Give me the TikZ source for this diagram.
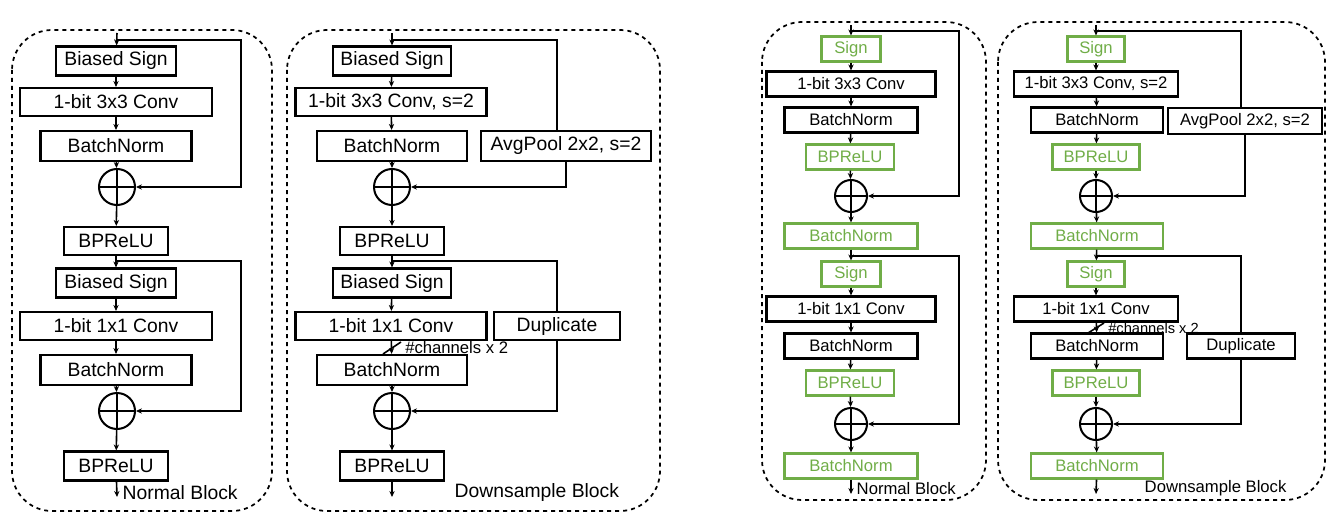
\documentclass[tikz,border=0pt]{standalone}
\usepackage{fontspec}
\setmainfont{Liberation Sans}
\usetikzlibrary{arrows.meta}
\definecolor{gr}{RGB}{112,173,71}
\newcommand{\bx}[7]{\node[box,#6,minimum width=#4*0.75pt,minimum height=#5*0.75pt] (#1) at (#2,#3) {#7};}
\newcommand{\plus}[3]{\node[sum,minimum size=#3*1.5pt] (#1) at (#2) {}; \draw[line width=1.4pt] (#1.north)--(#1.south) (#1.west)--(#1.east);}
\begin{document}
\begin{tikzpicture}[x=0.75pt,y=-0.75pt,
  box/.style={draw,line width=1.6pt,inner sep=0pt},
  big/.style={font=\fontsize{14.5}{17}\selectfont},
  sml/.style={font=\fontsize{12.5}{15}\selectfont},
  grn/.style={draw=gr,text=gr,sml},
  blk/.style={sml},
  sum/.style={circle,draw,line width=1.5pt,inner sep=0pt},
  ar/.style={-{Stealth[length=4.5pt,width=4pt]},line width=1.2pt},
  ln/.style={line width=1.2pt},
  panel/.style={draw,dashed,line width=1.3pt,rounded corners=30pt}]
\useasboundingbox (0,0) rectangle (1327,517);
% panels
\draw[panel] (12,30) rectangle (272,511);
\draw[panel] (287,30) rectangle (660,511);
\draw[panel] (762,22) rectangle (986,500);
\draw[panel] (998,22) rectangle (1325,500);
% ===== Panel 1
\bx{a1}{116}{61}{120}{29}{big}{Biased Sign}
\bx{a2}{116}{102}{192}{28}{big}{1-bit 3x3 Conv}
\bx{a3}{116}{146}{151}{30}{big}{BatchNorm}
\plus{ac1}{117,187}{18}
\bx{a4}{116}{241}{104}{28}{big}{BPReLU}
\bx{a5}{116}{283}{120}{29}{big}{Biased Sign}
\bx{a6}{116}{326}{192}{28}{big}{1-bit 1x1 Conv}
\bx{a7}{116}{370}{151}{30}{big}{BatchNorm}
\plus{ac2}{117,411}{18}
\bx{a8}{116}{466}{104}{29}{big}{BPReLU}
\coordinate (at) at (117,33); \coordinate (ae) at (117,497);
\coordinate (aj1) at (117,40); \coordinate (ak1) at (241,40);
\coordinate (aj2) at (117,261); \coordinate (ak2) at (241,261);
\draw[ar] (at)--(a1); \draw[ar] (a1)--(a2); \draw[ar] (a2)--(a3); \draw[ar] (a3)--(ac1);
\draw[ar] (ac1)--(a4); \draw[ar] (a4)--(a5); \draw[ar] (a5)--(a6); \draw[ar] (a6)--(a7);
\draw[ar] (a7)--(ac2); \draw[ar] (ac2)--(a8); \draw[ar] (a8)--(ae);
\draw[ar] (aj1)--(ak1)|-(ac1.east);
\draw[ar] (aj2)--(ak2)|-(ac2.east);
\node[anchor=west,big] (an) at (118,493) {Normal Block};
% ===== Panel 2
\bx{b1}{392}{61}{118}{29}{big}{Biased Sign}
\bx{b2}{391}{102}{191}{28}{big}{1-bit 3x3 Conv, s=2}
\bx{b3}{392}{146}{150}{30}{big}{BatchNorm}
\bx{bp}{566}{146}{170}{30}{big}{AvgPool 2x2, s=2}
\plus{bc1}{392,187}{18}
\bx{b4}{392}{241}{104}{28}{big}{BPReLU}
\bx{b5}{392}{283}{118}{29}{big}{Biased Sign}
\bx{b6}{391}{326}{191}{28}{big}{1-bit 1x1 Conv}
\bx{bd}{557}{326}{126}{28}{big}{Duplicate}
\bx{b7}{392}{370}{150}{30}{big}{BatchNorm}
\plus{bc2}{392,411}{18}
\bx{b8}{392}{466}{104}{29}{big}{BPReLU}
\coordinate (bt) at (392,33); \coordinate (be) at (392,497);
\coordinate (bj1) at (392,40); \coordinate (bk1) at (557,40);
\coordinate (bj2) at (392,261); \coordinate (bk2) at (557,261);
\draw[ar] (bt)--(b1); \draw[ar] (b1)--(b2); \draw[ar] (b2)--(b3); \draw[ar] (b3)--(bc1);
\draw[ar] (bc1)--(b4); \draw[ar] (b4)--(b5); \draw[ar] (b5)--(b6); \draw[ar] (b6)--(b7);
\draw[ar] (b7)--(bc2); \draw[ar] (bc2)--(b8); \draw[ar] (b8)--(be);
\draw[ln] (bj1)--(bk1)--(bk1|-bp.north); \draw[ar] (bp.south)|-(bc1.east);
\draw[ln] (bj2)--(bk2)--(bk2|-bd.north); \draw[ar] (bd.south)|-(bc2.east);
\coordinate (bs1) at (383,354); \coordinate (bs2) at (401,342);
\draw[ln] (bs1)--(bs2);
\node[anchor=west,font=\fontsize{12.5}{15}\selectfont,inner sep=0pt] (bch) at (405,348) {\#channels x 2};
\node[anchor=west,big] (bn) at (450,492) {Downsample Block};
% ===== Panel 3
\bx{c1}{851}{49}{59}{25}{grn}{Sign}
\bx{c2}{851}{84}{169}{25}{blk}{1-bit 3x3 Conv}
\bx{c3}{851}{120}{133}{25}{blk}{BatchNorm}
\bx{c4}{850}{157}{88}{25}{grn}{BPReLU}
\plus{cc1}{851,196}{16}
\bx{c5}{851}{236}{133}{25}{grn}{BatchNorm}
\bx{c6}{851}{274}{59}{25}{grn}{Sign}
\bx{c7}{851}{309}{169}{25}{blk}{1-bit 1x1 Conv}
\bx{c8}{851}{346}{133}{25}{blk}{BatchNorm}
\bx{c9}{850}{383}{88}{25}{grn}{BPReLU}
\plus{cc2}{851,424}{16}
\bx{c10}{851}{466}{133}{25}{grn}{BatchNorm}
\coordinate (ct) at (851,25); \coordinate (ce) at (851,494);
\coordinate (cj1) at (851,31); \coordinate (ck1) at (959,31);
\coordinate (cj2) at (851,256); \coordinate (ck2) at (959,256);
\draw[ar] (ct)--(c1); \draw[ar] (c1)--(c2); \draw[ar] (c2)--(c3); \draw[ar] (c3)--(c4);
\draw[ar] (c4)--(cc1); \draw[ar] (cc1)--(c5); \draw[ar] (c5)--(c6); \draw[ar] (c6)--(c7);
\draw[ar] (c7)--(c8); \draw[ar] (c8)--(c9); \draw[ar] (c9)--(cc2); \draw[ar] (cc2)--(c10);
\draw[ar] (c10)--(ce);
\draw[ar] (cj1)--(ck1)|-(cc1.east);
\draw[ar] (cj2)--(ck2)|-(cc2.east);
\node[anchor=west,sml] (cn) at (852,489) {Normal Block};
% ===== Panel 4
\bx{d1}{1096}{49}{57}{25}{grn}{Sign}
\bx{d2}{1096}{84}{164}{25}{blk}{1-bit 3x3 Conv, s=2}
\bx{d3}{1097}{120}{132}{25}{blk}{BatchNorm}
\bx{dp}{1245}{121}{154}{26}{blk}{AvgPool 2x2, s=2}
\bx{d4}{1096}{157}{87}{25}{grn}{BPReLU}
\plus{dc1}{1096,196}{16}
\bx{d5}{1097}{236}{132}{25}{grn}{BatchNorm}
\bx{d6}{1096}{274}{57}{25}{grn}{Sign}
\bx{d7}{1096}{309}{164}{25}{blk}{1-bit 1x1 Conv}
\bx{d8}{1097}{346}{132}{25}{blk}{BatchNorm}
\bx{dd}{1241}{346}{108}{25}{blk}{Duplicate}
\bx{d9}{1096}{383}{87}{25}{grn}{BPReLU}
\plus{dc2}{1096,424}{16}
\bx{d10}{1097}{466}{132}{25}{grn}{BatchNorm}
\coordinate (dt) at (1096,25); \coordinate (de) at (1096,494);
\coordinate (dj1) at (1096,31); \coordinate (dk1) at (1241,31);
\coordinate (dj2) at (1096,256); \coordinate (dk2) at (1241,256);
\draw[ar] (dt)--(d1); \draw[ar] (d1)--(d2); \draw[ar] (d2)--(d3); \draw[ar] (d3)--(d4);
\draw[ar] (d4)--(dc1); \draw[ar] (dc1)--(d5); \draw[ar] (d5)--(d6); \draw[ar] (d6)--(d7);
\draw[ar] (d7)--(d8); \draw[ar] (d8)--(d9); \draw[ar] (d9)--(dc2); \draw[ar] (dc2)--(d10);
\draw[ar] (d10)--(de);
\draw[ln] (dj1)--(dk1)--(dk1|-dp.north); \draw[ar] (dp.south)|-(dc1.east);
\draw[ln] (dj2)--(dk2)--(dk2|-dd.north); \draw[ar] (dd.south)|-(dc2.east);
\coordinate (ds1) at (1088,333); \coordinate (ds2) at (1104,323);
\draw[ln] (ds1)--(ds2);
\node[anchor=west,font=\fontsize{11}{13}\selectfont,inner sep=0pt] (dch) at (1108,328) {\#channels x 2};
\node[anchor=west,sml] (dn) at (1140,488) {Downsample Block};
\end{tikzpicture}
\end{document}
